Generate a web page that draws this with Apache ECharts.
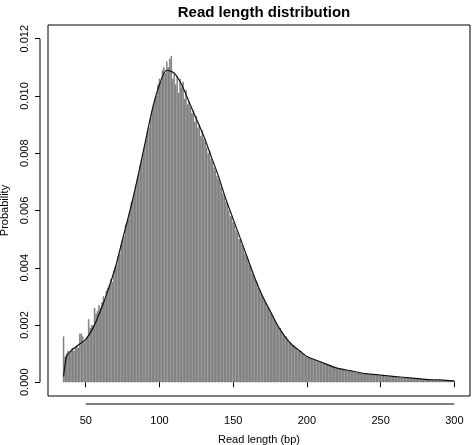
<!DOCTYPE html><html><head><meta charset="utf-8"><script src="https://cdn.jsdelivr.net/npm/echarts@6/dist/echarts.min.js"></script>
<style>body{margin:0}#c{width:474px;height:445px}</style></head><body><div id="c"></div><script>
const lengths=[];for(let i=35;i<=300;i++)lengths.push(i);
const probs=[0.0016,0.0009,0.0010,0.0011,0.0010,0.0011,0.0012,0.0011,0.0012,0.0013,
0.0012,0.0017,0.0017,0.0016,0.0014,0.0015,0.0016,0.0022,0.0019,0.0020,
0.0020,0.0026,0.0024,0.0025,0.0027,0.0026,0.0028,0.0030,0.0029,0.0032,
0.0033,0.0034,0.0036,0.0035,0.0039,0.0040,0.0041,0.0044,0.0045,0.0048,
0.0050,0.0051,0.0055,0.0056,0.0057,0.0060,0.0063,0.0064,0.0066,0.0069,
0.0071,0.0073,0.0076,0.0078,0.0080,0.0083,0.0085,0.0088,0.0089,0.0092,
0.0095,0.0097,0.0099,0.0100,0.0104,0.0106,0.0105,0.0109,0.0110,0.0108,
0.0112,0.0110,0.0113,0.0114,0.0106,0.0108,0.0104,0.0107,0.0101,0.0106,
0.0103,0.0105,0.0099,0.0102,0.0097,0.0098,0.0096,0.0094,0.0095,0.0091,
0.0093,0.0089,0.0090,0.0086,0.0088,0.0085,0.0084,0.0082,0.0080,0.0081,
0.0078,0.0077,0.0075,0.0074,0.0072,0.0071,0.0070,0.0068,0.0066,0.0065,
0.0063,0.0062,0.0060,0.0058,0.0058,0.0056,0.0055,0.0053,0.0052,0.0050,
0.0050,0.0048,0.0047,0.0045,0.0044,0.0043,0.0041,0.0040,0.0038,0.0037,
0.0036,0.0035,0.0033,0.0032,0.0031,0.0030,0.0029,0.0028,0.0027,0.0026,
0.0025,0.0024,0.0023,0.0022,0.0021,0.0020,0.0019,0.0019,0.0018,0.0017,
0.0016,0.0016,0.0015,0.0014,0.0014,0.0013,0.0013,0.0012,0.0012,0.0011,
0.0011,0.0011,0.0010,0.0010,0.0009,0.0009,
.00088,.00085,.00082,.00083,.00079,.00077,.00076,.00073,.00072,.0007,
.00068,.00066,.00065,.00062,.00061,.0006,.00058,.00055,.00054,.0005,
.00049,.00048,.00046,.00045,.00045,.00043,.00042,.0004,.0004,.00039,
.00038,.00036,.00035,.00034,.00033,.00033,.00032,.0003,.0003,.00029,
.00028,.00027,.00027,.00026,.00026,.00025,.00025,.00024,.00023,.00023,
.00022,.00022,.00021,.00021,.0002,.0002,.0002,.00019,.00019,.00018,
.00018,.00017,.00017,.00016,.00016,.00016,.00015,.00015,.00014,.00014,
.00014,.00013,.00013,.00012,.00012,.00012,.00011,.00011,.0001,.0001,
.0001,.0001,.00009,.00009,.00009,.00008,.00008,.00008,.00007,.00007,
.00007,.00006,.00006,.00006,.00005,.00005,.00005,.00004,.00004,.00004];
const curveX=[35,37,40,45,50,55,60,65,70,75,80,85,90,95,100,105,110,115,120,125,130,135,140,145,150,155,160,165,170,175,180,185,190,195,200,210,220,230,240,250,260,270,280,290,300];
const curveY=[0.0002,0.0009,0.0011,0.0013,0.0015,0.0019,0.0025,0.0032,0.0040,0.0050,0.0060,0.0071,0.0083,0.0095,0.0104,0.0109,0.0108,0.0104,0.0098,0.0092,0.0086,0.0079,0.0072,0.0064,0.0057,0.0050,0.0043,0.0036,0.0030,0.0025,0.0020,0.0016,0.0013,0.0011,0.0009,0.0007,0.0005,0.0004,0.0003,0.00025,0.0002,0.00015,0.0001,0.00008,0.00005];
const xTicks=[50,100,150,200,250,300];
const yTicks=[0,0.002,0.004,0.006,0.008,0.010,0.012];
const ff='Liberation Sans';
const ch=echarts.init(document.getElementById('c'));
ch.setOption({animation:false,
title:{text:'Read length distribution',left:259,textAlign:'center',top:0,textStyle:{fontFamily:ff,fontSize:15,fontWeight:'bold',color:'#000'}},
grid:{left:48,right:4,top:25,bottom:49,show:true,borderColor:'#000',borderWidth:1,outerBoundsMode:'none',containLabel:false},
xAxis:{type:'value',min:24.4,max:310.6,name:'Read length (bp)',nameLocation:'middle',nameGap:30,nameTextStyle:{fontFamily:ff,fontSize:11,color:'#000'},
 offset:8,axisLine:{show:false},splitLine:{show:false},
 axisTick:{show:true,length:5,customValues:xTicks,lineStyle:{color:'#000'}},
 axisLabel:{customValues:xTicks,fontFamily:ff,fontSize:11,color:'#000',margin:11}},
yAxis:{type:'value',min:-0.00048,max:0.01248,name:'Probability',nameLocation:'middle',nameGap:30,nameTextStyle:{fontFamily:ff,fontSize:11,color:'#000'},
 offset:8,axisLine:{show:false},splitLine:{show:false},
 axisTick:{show:true,length:5,customValues:yTicks,lineStyle:{color:'#000'}},
 axisLabel:{customValues:yTicks,rotate:90,fontFamily:ff,fontSize:11,color:'#000',margin:10,formatter:v=>v.toFixed(3)}},
series:[
{type:'bar',barWidth:1.2,data:lengths.map((x,i)=>[x,probs[i]]),itemStyle:{color:'#999',borderColor:'#444',borderWidth:0.4}},
{type:'line',smooth:0.3,symbol:'none',data:curveX.map((x,i)=>[x,curveY[i]]),lineStyle:{color:'#111',width:1.2}}
]});
const p0=ch.convertToPixel({gridIndex:0},[50,0]),p1=ch.convertToPixel({gridIndex:0},[300,0.012]);
const ax=ch.convertToPixel({gridIndex:0},[24.4,-0.00048]);
const bx=ax[1]+8, by=ax[0]-8;
ch.setOption({graphic:[
{type:'line',shape:{x1:p0[0],y1:bx,x2:p1[0],y2:bx},style:{stroke:'#000',lineWidth:1}},
{type:'line',shape:{x1:by,y1:p0[1],x2:by,y2:p1[1]},style:{stroke:'#000',lineWidth:1}}]});
</script></body></html>
